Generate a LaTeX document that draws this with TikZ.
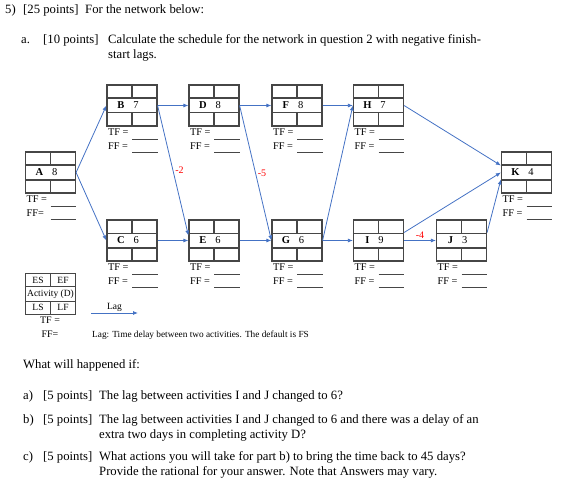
\documentclass[tikz,border=0pt]{standalone}
\usepackage{fontspec}
\setmainfont{Liberation Serif}
\usepackage{xcolor}
\usepackage{tikz}
\usetikzlibrary{arrows.meta, positioning}
\definecolor{linkblue}{RGB}{68, 114, 196}
\definecolor{boxgray}{RGB}{70, 70, 70}
\definecolor{lagred}{RGB}{255, 0, 0}

% inner lines of a six-cell box
\newcommand{\cellgrid}[1]{%
  \draw[cellline] ([yshift=-13.7pt]#1.north west) -- ([yshift=-13.7pt]#1.north east)
    ([yshift=13.7pt]#1.south west) -- ([yshift=13.7pt]#1.south east)
    (#1.north) -- ++(0,13.7) (#1.south) -- ++(0,-13.7);
}
% activity box: [FF text], name, x, y, letter, duration
\newcommand{\actbox}[6][FF =]{%
  \node[actbox] (#2) at (#3,#4) {};
  \cellgrid{#2}
  \node[actlabel] (#2-lbl) at ([xshift=-4pt]#2.center) {\textbf{#5}\hspace{9pt}#6};
  \node[floatlbl] (#2-tf) at ([xshift=1.5pt,yshift=-6pt]#2.south west) {TF =};
  \node[floatlbl] (#2-ff) at ([xshift=1.5pt,yshift=-20pt]#2.south west) {#1};
  \draw[blankline] ([yshift=-13pt]#2.south) -- ([yshift=-13pt]#2.south east)
    ([yshift=-26pt]#2.south) -- ([yshift=-26pt]#2.south east);
}

\begin{document}
\begin{tikzpicture}[
    x=1pt, y=-1pt,
    actbox/.style={draw=boxgray, line width=1.2pt, minimum width=50pt,
                   minimum height=41pt, inner sep=0pt},
    cellline/.style={draw=boxgray, line width=1.2pt},
    actlabel/.style={inner sep=0pt, font=\fontsize{10.5}{11}\selectfont},
    floatlbl/.style={anchor=west, inner sep=0pt, font=\fontsize{10.3}{11}\selectfont},
    blankline/.style={draw=boxgray, line width=0.9pt},
    link/.style={draw=linkblue, line width=0.8pt, -{Latex[length=5pt,width=4pt]}},
    lagval/.style={text=lagred, inner sep=2pt, font=\fontsize{10}{11}\selectfont},
    qtext/.style={anchor=base west, inner sep=0pt, font=\fontsize{12.7}{14}\selectfont}
]
    \useasboundingbox (0,0) rectangle (565,484);

    % Question header
    \node[qtext] (q5) at (5,14) {5)};
    \node[qtext] (q5-pts) at (23,14) {[25 points]};
    \node[qtext] (q5-txt) at (85,14) {For the network below:};
    \node[qtext] (qa) at (21,44) {a.};
    \node[qtext] (qa-pts) at (43,44) {[10 points]};
    \node[qtext] (qa-txt) at (108,44) {Calculate the schedule for the network in question 2 with negative finish-};
    \node[qtext] (qa-txt2) at (108,59) {start lags.};

    % Top row
    \actbox{B}{132}{105.5}{B}{7}
    \actbox{D}{214}{105.5}{D}{8}
    \actbox{F}{297}{105.5}{F}{8}
    \actbox{H}{378.5}{105.5}{H}{7}

    % Start and finish
    \actbox[FF=]{A}{50.5}{172.5}{A}{8}
    \actbox{K}{526.5}{172.5}{K}{4}

    % Bottom row
    \actbox{C}{132}{240.5}{C}{6}
    \actbox{E}{214}{240.5}{E}{6}
    \actbox{G}{297}{240.5}{G}{6}
    \actbox{I}{378.5}{240.5}{I}{9}
    \actbox{J}{461.5}{240.5}{J}{3}

    % Links
    \draw[link] (A.east) -- (B.west);
    \draw[link] (A.east) -- (C.west);
    \draw[link] (B.east) -- (D.west);
    \draw[link] (D.east) -- (F.west);
    \draw[link] (F.east) -- (H.west);
    \draw[link] (H.east) -- ([yshift=7pt]K.west);
    \draw[link] (B.east) -- node[lagval, right] (BE-lag) {-2} ([yshift=5pt]E.west);
    \draw[link] (D.east) -- node[lagval, right] (DG-lag) {-5} (G.west);
    \draw[link] (G.east) -- (H.west);
    \draw[link] (C.east) -- (E.west);
    \draw[link] (E.east) -- (G.west);
    \draw[link] (G.east) -- (I.west);
    \draw[link] (I.east) -- node[lagval, above] (IJ-lag) {-4} (J.west);
    \draw[link] ([yshift=8pt]I.east) -- (K.west);
    \draw[link] ([yshift=8pt]J.east) -- ([yshift=-7pt]K.west);

    % Legend
    \node[actbox] (legend) at (50.5,294) {};
    \cellgrid{legend}
    \node[actlabel, font=\fontsize{9.5}{10}\selectfont] (leg-es) at ([xshift=-12.5pt,yshift=13.7pt]legend.center) {ES};
    \node[actlabel, font=\fontsize{9.5}{10}\selectfont] (leg-ef) at ([xshift=12.5pt,yshift=13.7pt]legend.center) {EF};
    \node[actlabel, font=\fontsize{9.5}{10}\selectfont] (leg-act) at (legend.center) {Activity (D)};
    \node[actlabel, font=\fontsize{9.5}{10}\selectfont] (leg-ls) at ([xshift=-12.5pt,yshift=-13.7pt]legend.center) {LS};
    \node[actlabel, font=\fontsize{9.5}{10}\selectfont] (leg-lf) at ([xshift=12.5pt,yshift=-13.7pt]legend.center) {LF};
    \node[actlabel, font=\fontsize{10}{10}\selectfont] (leg-tf) at (50,320) {TF =};
    \node[actlabel, font=\fontsize{10}{10}\selectfont] (leg-ff) at (50,334) {FF=};
    \coordinate (lag-tail) at (91,313);
    \coordinate (lag-head) at (138,313);
    \draw[link] (lag-tail) -- node[above, inner sep=1.5pt, font=\fontsize{9.5}{10}\selectfont] (lag-key) {Lag} (lag-head);
    \node[anchor=west, inner sep=0pt, font=\fontsize{9.3}{10}\selectfont] (lag-note) at (92,335) {Lag: Time delay between two activities. The default is FS};

    % Follow-up questions
    \node[qtext] (qw) at (23,368) {What will happened if:};
    \node[qtext] (qa2) at (23,399) {a)};
    \node[qtext] (qa2-pts) at (43,399) {[5 points]};
    \node[qtext] (qa2-txt) at (99,399) {The lag between activities I and J changed to 6?};
    \node[qtext] (qb2) at (23,423) {b)};
    \node[qtext] (qb2-pts) at (43,423) {[5 points]};
    \node[qtext] (qb2-txt) at (99,423) {The lag between activities I and J changed to 6 and there was a delay of an};
    \node[qtext] (qb2-txt2) at (99,438) {extra two days in completing activity D?};
    \node[qtext] (qc2) at (23,460) {c)};
    \node[qtext] (qc2-pts) at (43,460) {[5 points]};
    \node[qtext] (qc2-txt) at (99,460) {What actions you will take for part b) to bring the time back to 45 days?};
    \node[qtext] (qc2-txt2) at (99,475) {Provide the rational for your answer. Note that Answers may vary.};
\end{tikzpicture}
\end{document}
